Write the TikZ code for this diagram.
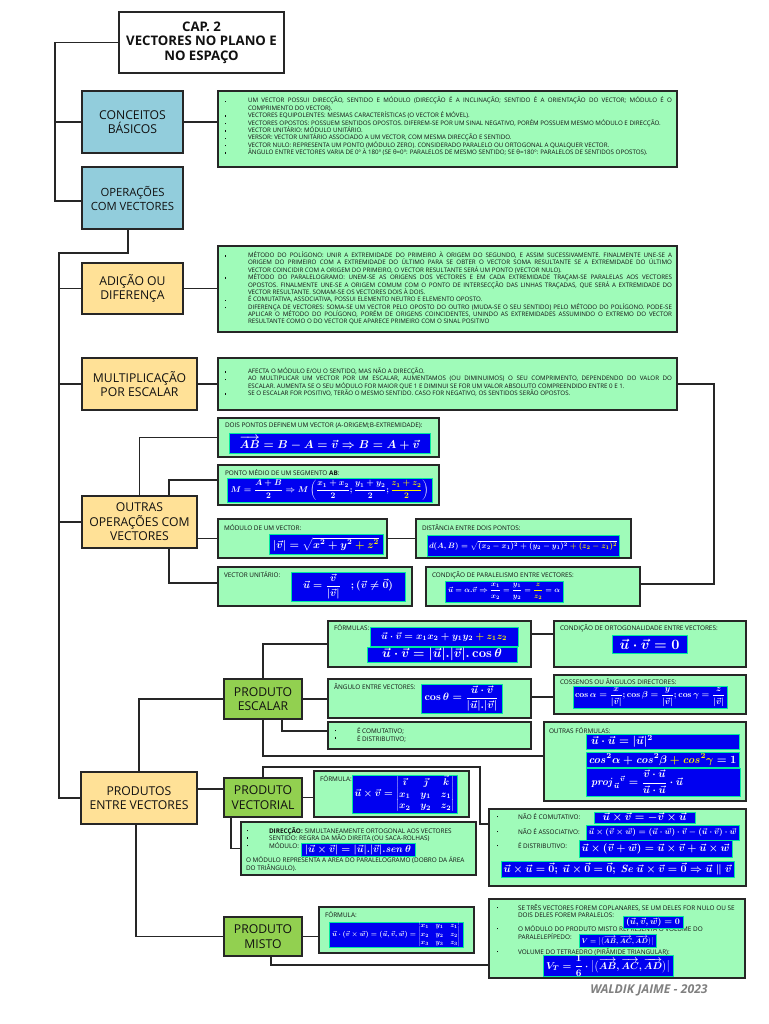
\documentclass[tikz,border=0pt]{standalone}
\usepackage{amsmath,bm,graphicx}
\usepackage[no-math]{fontspec}
\setmainfont{Open Sans}
\definecolor{gbox}{HTML}{9FFBB9}
\definecolor{bluebox}{HTML}{92CDDC}
\definecolor{yelbox}{HTML}{FFE197}
\definecolor{prodbox}{HTML}{92D050}
\definecolor{fblue}{HTML}{0000F0}
\definecolor{fedge}{HTML}{00E8A0}
\definecolor{ink}{HTML}{111111}
\definecolor{edge}{HTML}{262626}
\tikzset{
 basebox/.style={draw=edge,line width=1.15pt,inner sep=0pt,outer sep=0pt,align=center,text=ink},
 titlebox/.style={basebox,fill=white,font=\fontsize{13.2}{14.5}\selectfont\bfseries},
 topicblue/.style={basebox,fill=bluebox,font=\fontsize{12.2}{14.5}\selectfont},
 topicblues/.style={basebox,fill=bluebox,font=\fontsize{11.3}{14}\selectfont},
 topicyel/.style={basebox,fill=yelbox,font=\fontsize{12.2}{14.5}\selectfont},
 topicgreen/.style={basebox,fill=prodbox,font=\fontsize{12.2}{14.5}\selectfont},
 notebox/.style={basebox,fill=gbox},
 conn/.style={draw=edge,line width=1.15pt},
 small/.style={inner sep=0pt,outer sep=0pt,text=ink,font=\fontsize{6.4}{7.4}\selectfont},
 para/.style={small,font=\fontsize{6.2}{7.4}\selectfont},
 formula/.style={draw=fedge,line width=.9pt,fill=fblue,inner sep=0pt,outer sep=0pt,text=white},
}
\newcommand\bx[7]{\node[#1,minimum width={(#5-#3)*1pt},minimum height={(#6-#4)*1pt}] (#2) at ({(#3+#5)/2},{(#4+#6)/2}) {#7};}
\newcommand\fm[7]{\node[formula,minimum width={(#4-#2)*1pt},minimum height={(#5-#3)*1pt}] (#1) at ({(#2+#4)/2},{(#3+#5)/2}) {\resizebox{#6pt}{!}{\boldmath$\displaystyle #7$}};}
\newcommand\fml[7]{\node[formula,minimum width={(#4-#2)*1pt},minimum height={(#5-#3)*1pt}] (#1) at ({(#2+#4)/2},{(#3+#5)/2}) {\pgfmathsetlengthmacro\bw{(#4-#2)*1pt}\makebox[\bw][l]{\hspace{5pt}\resizebox{#6pt}{!}{\boldmath$\displaystyle #7$}}};}
\newcommand\lb[4]{\node[small,anchor=west] (#1) at (#2,#3) {#4};}
\newcommand\itm[1]{\par\noindent\hangindent=23pt\hangafter=1\makebox[23pt][l]{\rule[.8pt]{1.4pt}{1.4pt}}#1\par}
\newcommand\pts[1]{\rule[.8pt]{1.4pt}{1.4pt}}
\newcommand\yl[1]{\textcolor{yellow}{#1}}
\begin{document}
\begin{tikzpicture}[x=1pt,y=-1pt]
\useasboundingbox (0,0) rectangle (768,1024);
% main boxes
\bx{titlebox}{title}{119}{12}{284}{73}{CAP. 2\\VECTORES NO PLANO E\\NO ESPAÇO}
\bx{topicblue}{con}{82}{91}{183}{153}{CONCEITOS\\BÁSICOS}
\bx{topicblues}{op}{82}{167}{183}{229}{OPERAÇÕES\\COM VECTORES}
\bx{topicyel}{ad}{82}{263}{183}{314}{ADIÇÃO OU\\DIFERENÇA}
\bx{topicyel}{mu}{82}{358}{197}{410}{MULTIPLICAÇÃO\\POR ESCALAR}
\bx{topicyel}{ou}{82}{496}{197}{548}{OUTRAS\\OPERAÇÕES COM\\VECTORES}
\bx{topicyel}{pr}{81}{772}{197}{824}{PRODUTOS\\ENTRE VECTORES}
\bx{topicgreen}{es}{224}{679}{302}{719}{PRODUTO\\ESCALAR}
\bx{topicgreen}{ve}{224}{778}{302}{817}{PRODUTO\\VECTORIAL}
\bx{topicgreen}{mi}{224}{917}{302}{956}{PRODUTO\\MISTO}
% note boxes
\bx{notebox}{a}{218}{91}{677}{167}{}
\bx{notebox}{b}{218}{246}{677}{332}{}
\bx{notebox}{c}{218}{358}{677}{410}{}
\bx{notebox}{d}{218}{418}{439}{457}{}
\bx{notebox}{e}{218}{465}{439}{505}{}
\bx{notebox}{f}{218}{519}{387}{558}{}
\bx{notebox}{g}{416}{519}{631}{558}{}
\bx{notebox}{h}{218}{567}{412}{606}{}
\bx{notebox}{i}{426}{567}{640}{606}{}
\bx{notebox}{j}{328}{621}{531}{667}{}
\bx{notebox}{k}{554}{621}{746}{667}{}
\bx{notebox}{l}{328}{679}{531}{718}{}
\bx{notebox}{m}{554}{675}{746}{714}{}
\bx{notebox}{n}{328}{722}{531}{749}{}
\bx{notebox}{o}{544}{722}{746}{801}{}
\bx{notebox}{p}{314}{771}{469}{817}{}
\bx{notebox}{q}{241}{822}{476}{875}{}
\bx{notebox}{r}{489}{809}{746}{886}{}
\bx{notebox}{s}{319}{907}{474}{953}{}
\bx{notebox}{t}{489}{899}{745}{978}{}
% paragraphs
\node[para,anchor=north west,text width=447pt,align=justify] (ta) at (225,95.5) {%
\itm{UM VECTOR POSSUI DIRECÇÃO, SENTIDO E MÓDULO (DIRECÇÃO É A INCLINAÇÃO; SENTIDO É A ORIENTAÇÃO DO VECTOR; MÓDULO É O\linebreak COMPRIMENTO DO VECTOR).}%
\itm{VECTORES EQUIPOLENTES: MESMAS CARACTERÍSTICAS (O VECTOR É MÓVEL).}%
\itm{VECTORES OPOSTOS: POSSUEM SENTIDOS OPOSTOS. DIFEREM-SE POR UM SINAL NEGATIVO, PORÉM POSSUEM MESMO MÓDULO E DIRECÇÃO.}%
\itm{VECTOR UNITÁRIO: MÓDULO UNITÁRIO.}%
\itm{VERSOR: VECTOR UNITÁRIO ASSOCIADO A UM VECTOR, COM MESMA DIRECÇÃO E SENTIDO.}%
\itm{VECTOR NULO: REPRESENTA UM PONTO (MÓDULO ZERO). CONSIDERADO PARALELO OU ORTOGONAL A QUALQUER VECTOR.}%
\itm{ÂNGULO ENTRE VECTORES VARIA DE 0º À 180º (SE θ=0º: PARALELOS DE MESMO SENTIDO; SE θ=180º: PARALELOS DE SENTIDOS OPOSTOS).}};
\node[para,anchor=north west,text width=447pt,align=justify] (tb) at (225,250) {%
\itm{MÉTODO DO POLÍGONO: UNIR A EXTREMIDADE DO PRIMEIRO À ORIGEM DO SEGUNDO, E ASSIM SUCESSIVAMENTE. FINALMENTE UNE-SE A\linebreak ORIGEM DO PRIMEIRO COM A EXTREMIDADE DO ÚLTIMO PARA SE OBTER O VECTOR SOMA RESULTANTE SE A EXTREMIDADE DO ÚLTIMO\linebreak VECTOR COINCIDIR COM A ORIGEM DO PRIMEIRO, O VECTOR RESULTANTE SERÁ UM PONTO (VECTOR NULO).}%
\itm{MÉTODO DO PARALELOGRAMO: UNEM-SE AS ORIGENS DOS VECTORES E EM CADA EXTREMIDADE TRAÇAM-SE PARALELAS AOS VECTORES\linebreak OPOSTOS. FINALMENTE UNE-SE A ORIGEM COMUM COM O PONTO DE INTERSECÇÃO DAS LINHAS TRAÇADAS, QUE SERÁ A EXTREMIDADE DO\linebreak VECTOR RESULTANTE. SOMAM-SE OS VECTORES DOIS À DOIS.}%
\itm{É COMUTATIVA, ASSOCIATIVA, POSSUI ELEMENTO NEUTRO E ELEMENTO OPOSTO.}%
\itm{DIFERENÇA DE VECTORES: SOMA-SE UM VECTOR PELO OPOSTO DO OUTRO (MUDA-SE O SEU SENTIDO) PELO MÉTODO DO POLÍGONO. PODE-SE\linebreak APLICAR O MÉTODO DO POLÍGONO, PORÉM DE ORIGENS COINCIDENTES, UNINDO AS EXTREMIDADES ASSUMINDO O EXTREMO DO VECTOR\linebreak RESULTANTE COMO O DO VECTOR QUE APARECE PRIMEIRO COM O SINAL POSITIVO}};
\node[para,anchor=north west,text width=447pt,align=justify] (tc) at (225,366) {%
\itm{AFECTA O MÓDULO E/OU O SENTIDO, MAS NÃO A DIRECÇÃO.}%
\itm{AO MULTIPLICAR UM VECTOR POR UM ESCALAR, AUMENTAMOS (OU DIMINUIMOS) O SEU COMPRIMENTO, DEPENDENDO DO VALOR DO\linebreak ESCALAR. AUMENTA SE O SEU MÓDULO FOR MAIOR QUE 1 E DIMINUI SE FOR UM VALOR ABSOLUTO COMPREENDIDO ENTRE 0 E 1.}%
\itm{SE O ESCALAR FOR POSITIVO, TERÃO O MESMO SENTIDO. CASO FOR NEGATIVO, OS SENTIDOS SERÃO OPOSTOS.}};
% labels
\lb{ld}{225}{426}{DOIS PONTOS DEFINEM UM VECTOR (A-ORIGEM;B-EXTREMIDADE):}
\lb{le}{225}{473}{PONTO MÉDIO DE UM SEGMENTO \textbf{AB}:}
\lb{lf}{224}{528}{MÓDULO DE UM VECTOR:}
\lb{lg}{422}{528}{DISTÂNCIA ENTRE DOIS PONTOS:}
\lb{lh}{224}{575}{VECTOR UNITÁRIO:}
\lb{li}{432}{575}{CONDIÇÃO DE PARALELISMO ENTRE VECTORES:}
\lb{lj}{334}{628}{FÓRMULAS:}
\lb{lk}{560}{628}{CONDIÇÃO DE ORTOGONALIDADE ENTRE VECTORES:}
\lb{ll}{334}{687}{ÂNGULO ENTRE VECTORES:}
\lb{lm}{560}{682}{COSSENOS OU ÂNGULOS DIRECTORES:}
\lb{lo}{549}{731}{OUTRAS FÓRMULAS:}
\lb{lp}{320}{779}{FÓRMULA:}
\lb{ls}{325}{915}{FÓRMULA:}
% bullets and text lines
\lb{bn1}{335}{731}{\pts{}}\lb{n1}{357}{731}{É COMUTATIVO;}
\lb{bn2}{335}{738.5}{\pts{}}\lb{n2}{357}{738.5}{É DISTRIBUTIVO;}
\lb{bq1}{247}{831}{\pts{}}\lb{q1}{269}{831}{\textbf{DIRECÇÃO:} SIMULTANEAMENTE ORTOGONAL AOS VECTORES}
\lb{bq2}{247}{838.5}{\pts{}}\lb{q2}{269}{838.5}{SENTIDO: REGRA DA MÃO DIREITA (OU SACA-ROLHAS)}
\lb{bq3}{247}{846}{\pts{}}\lb{q3}{269}{846}{MÓDULO:}
\lb{q4}{246}{860}{O MÓDULO REPRESENTA A ÁREA DO PARALELOGRAMO (DOBRO DA ÁREA}
\lb{q5}{246}{868}{DO TRIÂNGULO).}
\lb{br1}{497}{817}{\pts{}}\lb{r1}{518}{817}{NÃO É COMUTATIVO:}
\lb{br2}{497}{832}{\pts{}}\lb{r2}{518}{832}{NÃO É ASSOCIATIVO:}
\lb{br3}{497}{846}{\pts{}}\lb{r3}{518}{846}{É DISTRIBUTIVO:}
\lb{bt1}{497}{908}{\pts{}}\lb{t1}{518}{908}{SE TRÊS VECTORES FOREM COPLANARES, SE UM DELES FOR NULO OU SE}
\lb{t2}{518}{915.5}{DOIS DELES FOREM PARALELOS:}
\lb{bt3}{497}{929}{\pts{}}\lb{t3}{518}{929}{O MÓDULO DO PRODUTO MISTO REPRESENTA O VOLUME DO}
\lb{t4}{518}{936.5}{PARALELEPÍPEDO:}
\lb{bt5}{497}{952}{\pts{}}\lb{t5}{518}{952}{VOLUME DO TETRAEDRO (PIRÂMIDE TRIANGULAR):}
% formulas
\fm{fd}{229}{433}{430}{453}{180}{\overrightarrow{AB}=B-A=\vec v\Rightarrow B=A+\vec v}
\fm{fe}{227}{478}{432}{502}{198}{M=\frac{A+B}{2}\Rightarrow M\left(\frac{x_1+x_2}{2};\frac{y_1+y_2}{2};\yl{\frac{z_1+z_2}{2}}\right)}
\fm{ff}{269}{534}{383}{554}{106}{|\vec v|=\sqrt{x^2+y^2\yl{{}+z^2}}}
\fm{fg}{427}{535}{619}{556}{188}{d(A,B)=\sqrt{(x_2-x_1)^2+(y_2-y_1)^2\yl{{}+(z_2-z_1)^2}}}
\fm{fh}{291}{572}{405}{601}{90}{\vec u=\frac{\vec v}{|\vec v|}\quad;(\vec v\neq\vec 0)}
\fm{fi}{445}{581}{563}{602}{112}{\vec u=\alpha.\vec v\Rightarrow\frac{x_1}{x_2}=\frac{y_1}{y_2}=\yl{\frac{z}{z_2}}=\alpha}
\fm{fj1}{370}{627}{518}{646}{126}{\vec u\cdot\vec v=x_1x_2+y_1y_2\yl{{}+z_1z_2}}
\fm{fj2}{367}{647}{517}{662}{120}{\vec u\cdot\vec v=|\vec u|.|\vec v|.\cos\theta}
\fm{fk}{612}{635}{687}{653}{60}{\vec u\cdot\vec v=0}
\fm{fl}{421}{684}{502}{713}{74}{\cos\theta=\frac{\vec u\cdot\vec v}{|\vec u|.|\vec v|}}
\fm{fm}{573}{686}{727}{708}{150}{\cos\alpha=\frac{x}{|\vec v|};\cos\beta=\frac{y}{|\vec v|};\cos\gamma=\frac{z}{|\vec v|}}
\fml{fo1}{586}{734}{739}{749}{62}{\vec u\cdot\vec u=|\vec u|^2}
\fm{fo2}{586}{752}{739}{767}{148}{\mathit{cos}^2\alpha+\mathit{cos}^2\beta\yl{{}+\mathit{cos}^2\gamma}=1}
\fml{fo3}{586}{768}{740}{796}{92}{\mathit{proj}_{\vec u}{}^{\vec v}=\frac{\vec v\cdot\vec u}{\vec u\cdot\vec u}\cdot\vec u}
\fm{fp}{352}{775}{457}{813}{100}{\vec u\times\vec v=\begin{vmatrix}\vec\imath&\vec\jmath&\vec k\\x_1&y_1&z_1\\x_2&y_2&z_2\end{vmatrix}}
\fm{fq}{301}{843}{415}{856}{106}{|\vec u\times\vec v|=|\vec u|.|\vec v|.\mathit{sen}\,\theta}
\fm{fr1}{594}{812}{695}{823}{84}{\vec u\times\vec v=-\vec v\times\vec u}
\fm{fr2}{586}{825}{739}{840}{148}{\vec u\times(\vec v\times\vec w)=(\vec u\cdot\vec w)\cdot\vec v-(\vec u\cdot\vec v)\cdot\vec w}
\fm{fr3}{579}{840}{732}{857}{148}{\vec u\times(\vec v+\vec w)=\vec u\times\vec v+\vec u\times\vec w}
\fm{fr4}{501}{861}{734}{877}{228}{\vec u\times\vec u=\vec 0;\ \vec u\times\vec 0=\vec 0;\ \mathit{Se}\ \vec u\times\vec v=\vec 0\Rightarrow\vec u\parallel\vec v}
\fm{fs}{329}{922}{463}{947}{128}{\vec u\cdot(\vec v\times\vec w)=(\vec u,\vec v,\vec w)=\begin{vmatrix}x_1&y_1&z_1\\x_2&y_2&z_2\\x_3&y_3&z_3\end{vmatrix}}
\fm{ft1}{623}{916}{683}{928}{54}{(\vec u,\vec v,\vec w)=0}
\fm{ft2}{579}{934}{656}{947}{72}{V=\bigl|\bigl(\overrightarrow{AB},\overrightarrow{AC},\overrightarrow{AD}\bigr)\bigr|}
\fm{ft3}{543}{956}{673}{976}{124}{V_T=\frac{1}{6}\cdot\bigl|\bigl(\overrightarrow{AB},\overrightarrow{AC},\overrightarrow{AD}\bigr)\bigr|}
\node[inner sep=0pt,text=gray,font=\fontsize{12.2}{14}\selectfont\bfseries\itshape] (sig) at (649,990) {WALDIK JAIME - 2023};
% connectors
\coordinate (t1) at (55,201);
\coordinate (t2) at (59,253);
\coordinate (t3) at (714,384);
\coordinate (v1) at (480,767);
\draw[conn] (title.west) -| (t1) -- ([yshift=-3pt]op.west);
\draw[conn] (con.west) -- (t1 |- con.west);
\draw[conn] ([xshift=-4.5pt]op.south) |- (t2) |- (pr.west);
\draw[conn] (ad.west) -- (t2 |- ad.west);
\draw[conn] (mu.west) -- (t2 |- mu.west);
\draw[conn] (ou.west) -- (t2 |- ou.west);
\draw[conn] (con.east) -- (a.west |- con.east);
\draw[conn] (ad.east) -- (b.west |- ad.east);
\draw[conn] (mu.east) -- (c.west |- mu.east);
\draw[conn] (c.east) -- (t3) |- ([yshift=2.5pt]i.east);
\draw[conn] (ou.north) |- (d.west);
\draw[conn] ([xshift=29.5pt]ou.north) |- ([yshift=5pt]e.west);
\draw[conn] (ou.east |- f.west) -- (f.west);
\draw[conn] ([xshift=29.5pt]ou.south) |- ([yshift=3.5pt]h.west);
\draw[conn] (f.east) -- (g.west);
\draw[conn] (pr.north) |- (es.west);
\draw[conn] ([yshift=9pt]pr.east) -- ([yshift=8.5pt]ve.west);
\draw[conn] ([xshift=-3pt]pr.south) |- (mi.west);
\draw[conn] (es.north) |- (j.west);
\draw[conn] (es.east) -- (l.west |- es.east);
\draw[conn] ([xshift=19pt]es.south) |- ([yshift=4.5pt]n.west);
\draw[conn] (es.south) |- ([yshift=5.5pt]o.west);
\draw[conn] ([yshift=10pt]j.east) -- ([yshift=10pt]k.west);
\draw[conn] ([yshift=1.5pt]l.east) -- ([yshift=-2.5pt]m.west);
\draw[conn] (ve.north) |- (v1) |- ([yshift=23.5pt]r.west);
\draw[conn] (ve.east) -- (p.west |- ve.east);
\draw[conn] ([xshift=-32pt]ve.south) |- (q.west);
\draw[conn] (mi.east) -- (s.west |- mi.east);
\draw[conn] ([xshift=8pt]mi.south) |- ([yshift=-26.5pt]t.west);
\end{tikzpicture}
\end{document}
